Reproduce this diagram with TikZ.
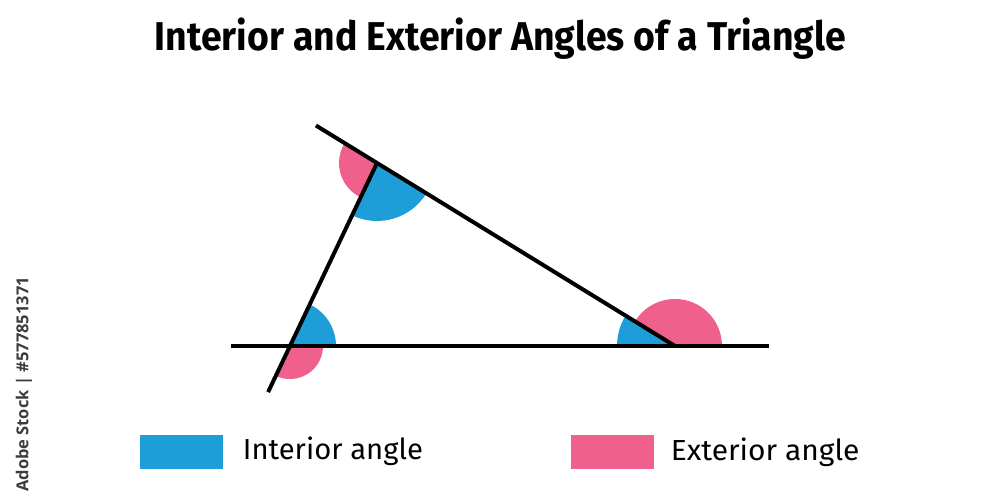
\documentclass[tikz,border=0pt]{standalone}
\usepackage{fontspec}
\usepackage{graphicx}
\setmainfont{Fira Sans}
\newfontfamily\wmfont{Open Sans}
\usetikzlibrary{calc}
\definecolor{intblue}{RGB}{29,158,217}
\definecolor{extpink}{RGB}{240,96,140}
\definecolor{wmgray}{RGB}{60,60,60}
\begin{document}
\begin{tikzpicture}[x=1pt,y=1pt,
  edge/.style={line width=4pt, draw=black},
  intsec/.style={fill=intblue},
  extsec/.style={fill=extpink},
  legendbox/.style={fill=#1, minimum width=83pt, minimum height=34pt, inner sep=0pt, anchor=south west},
  legendtext/.style={anchor=base west, inner sep=0pt, font=\fontsize{29}{34}\selectfont},
  titletext/.style={anchor=base, inner sep=0pt, font=\fontsize{40.2}{48}\selectfont\bfseries}]
\useasboundingbox (0,0) rectangle (1000,502);
% title
\node[titletext] (title) at (500.5,451.3) {\resizebox{691pt}{\height}{Interior and Exterior Angles of a Triangle}};
% points
\coordinate (A) at (377,339);
\coordinate (B) at (290,156);
\coordinate (C) at (675,156);
\coordinate (P) at ($(C)!1.205!(A)$);
\coordinate (Q) at ($(A)!1.252!(B)$);
\coordinate (L) at (230.7,156);
\coordinate (R) at (769,156);
% angle sectors
\fill[extsec] (A) -- ++(148.45:38) arc[start angle=148.45, end angle=244.57, radius=38] -- cycle;
\fill[intsec] (A) -- ++(244.57:58) arc[start angle=244.57, end angle=328.45, radius=58] -- cycle;
\fill[intsec] (B) -- ++(0:46) arc[start angle=0, end angle=64.57, radius=46] -- cycle;
\fill[extsec] (B) -- ++(244.57:33) arc[start angle=244.57, end angle=360, radius=33] -- cycle;
\fill[intsec] (C) -- ++(148.45:58) arc[start angle=148.45, end angle=180, radius=58] -- cycle;
\fill[extsec] (C) -- ++(0:47) arc[start angle=0, end angle=148.45, radius=47] -- cycle;
% lines
\draw[edge] (L) -- (R);
\draw[edge] (P) -- (C);
\draw[edge] (Q) -- (A);
% legend
\node[legendbox=intblue] (kb) at (140,33) {};
\node[legendtext] (kt) at (242.7,42) {\resizebox{180pt}{\height}{Interior angle}};
\node[legendbox=extpink] (kp) at (570.5,33) {};
\node[legendtext] (et) at (670.7,41.5) {\resizebox{188.6pt}{\height}{Exterior angle}};
% watermark
\node[rotate=90, anchor=base west, inner sep=0pt, text=wmgray, font=\wmfont\fontsize{16.5}{20}\selectfont\bfseries] (wm) at (28.3,10) {Adobe Stock | \#577851371};
\end{tikzpicture}
\end{document}
